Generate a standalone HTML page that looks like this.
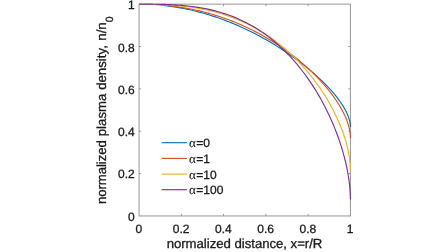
<!DOCTYPE html>
<html><head><meta charset="utf-8"><title>plot</title>
<style>
html,body{margin:0;padding:0;background:#fff;}
svg{display:block;}
text{text-rendering:geometricPrecision;font-family:"Liberation Sans",sans-serif;fill:#1a1a1a;stroke:#1a1a1a;stroke-width:0.3px;}
.t{font-size:12px;}
.l{font-size:13.2px;}
</style></head><body>
<svg width="448" height="252" viewBox="0 0 448 252">
<rect width="448" height="252" fill="#fff"/>
<g stroke="#969696" stroke-width="1" fill="none">
<rect x="139.05" y="4.15" width="211.35" height="211.80"/>
<path d="M181.32 215.95 v-2.00 M181.32 4.15 v2.00"/>
<path d="M139.05 173.59 h2.00 M350.40 173.59 h-2.00"/>
<path d="M223.59 215.95 v-2.00 M223.59 4.15 v2.00"/>
<path d="M139.05 131.23 h2.00 M350.40 131.23 h-2.00"/>
<path d="M265.86 215.95 v-2.00 M265.86 4.15 v2.00"/>
<path d="M139.05 88.87 h2.00 M350.40 88.87 h-2.00"/>
<path d="M308.13 215.95 v-2.00 M308.13 4.15 v2.00"/>
<path d="M139.05 46.51 h2.00 M350.40 46.51 h-2.00"/>
</g>
<g fill="none" stroke-width="1.15" stroke-linejoin="round">
<path d="M164.43 5.56 L166.54 5.80 L168.66 6.07 L170.77 6.35 L172.88 6.65 L174.99 6.98 L177.11 7.32 L179.22 7.68 L181.33 8.06 L183.45 8.46 L185.56 8.88 L187.67 9.32 L189.79 9.78 L191.90 10.26 L194.01 10.76 L196.13 11.28 L198.24 11.82 L200.35 12.38 L202.47 12.95 L204.58 13.55 L206.69 14.17 L208.81 14.80 L210.92 15.46 L213.03 16.14 L215.15 16.83 L217.26 17.55 L219.37 18.28 L221.49 19.04 L223.60 19.81 L225.71 20.61 L227.83 21.42 L229.94 22.26 L232.05 23.11 L234.17 23.99 L236.28 24.88 L238.39 25.80 L240.51 26.73 L242.62 27.69 L244.73 28.67 L246.85 29.67 L248.96 30.68 L251.07 31.72 L253.19 32.78 L255.30 33.86 L257.41 34.97 L259.53 36.09 L261.64 37.23 L263.75 38.40 L265.87 39.59 L267.98 40.80 L270.09 42.04 L272.21 43.29 L274.32 44.57 L276.43 45.88 L278.55 47.20 L280.66 48.55 L282.77 49.93 L284.89 51.33 L287.00 52.75 L289.11 54.21 L291.23 55.69 L293.34 57.19 L295.45 58.73 L297.57 60.29 L299.68 61.88 L301.79 63.51 L303.91 65.17 L306.02 66.86 L308.13 68.58 L310.25 70.35 L312.36 72.15 L314.47 73.99 L316.59 75.88 L318.70 77.82 L320.81 79.80 L322.93 81.85 L325.04 83.95 L327.15 86.12 L329.26 88.36 L329.98 89.14 L330.67 89.91 L331.36 90.68 L332.03 91.44 L332.70 92.20 L333.35 92.95 L333.98 93.71 L334.61 94.45 L335.22 95.20 L335.82 95.94 L336.41 96.68 L336.99 97.41 L337.55 98.14 L338.11 98.87 L338.65 99.59 L339.17 100.31 L339.69 101.02 L340.19 101.73 L340.69 102.44 L341.17 103.14 L341.63 103.84 L342.09 104.53 L342.53 105.22 L342.96 105.90 L343.38 106.59 L343.79 107.26 L344.18 107.93 L344.57 108.60 L344.94 109.27 L345.29 109.92 L345.64 110.58 L345.97 111.23 L346.30 111.88 L346.61 112.52 L346.90 113.16 L347.19 113.79 L347.46 114.42 L347.72 115.04 L347.97 115.66 L348.21 116.28 L348.43 116.89 L348.65 117.49 L348.85 118.09 L349.03 118.69 L349.21 119.28 L349.37 119.87 L349.53 120.45 L349.67 121.03 L349.79 121.61 L349.91 122.18 L350.01 122.74 L350.10 123.30 L350.18 123.86 L350.25 124.41 L350.30 124.96 L350.35 125.50 L350.38 126.03 L350.39 126.57 L350.40 127.09" stroke="#0072BD"/>
<path d="M155.98 4.65 L158.09 4.78 L160.20 4.93 L162.32 5.10 L164.43 5.29 L166.54 5.49 L168.66 5.71 L170.77 5.94 L172.88 6.20 L175.00 6.47 L177.11 6.76 L179.22 7.07 L181.34 7.39 L183.45 7.73 L185.56 8.10 L187.68 8.48 L189.79 8.88 L191.90 9.30 L194.02 9.73 L196.13 10.19 L198.24 10.67 L200.36 11.16 L202.47 11.68 L204.58 12.22 L206.70 12.77 L208.81 13.35 L210.92 13.95 L213.04 14.57 L215.15 15.21 L217.26 15.87 L219.38 16.55 L221.49 17.25 L223.60 17.98 L225.72 18.72 L227.83 19.49 L229.94 20.29 L232.06 21.10 L234.17 21.94 L236.28 22.80 L238.39 23.68 L240.51 24.59 L242.62 25.52 L244.73 26.48 L246.85 27.46 L248.96 28.46 L251.07 29.49 L253.19 30.54 L255.30 31.63 L257.41 32.73 L259.53 33.86 L261.64 35.02 L263.75 36.21 L265.87 37.42 L267.98 38.67 L270.09 39.94 L272.21 41.24 L274.32 42.57 L276.43 43.92 L278.55 45.31 L280.66 46.73 L282.77 48.19 L284.89 49.67 L287.00 51.19 L289.11 52.75 L291.23 54.33 L293.34 55.96 L295.45 57.62 L297.57 59.32 L299.68 61.06 L301.79 62.85 L303.91 64.67 L306.02 66.54 L308.13 68.46 L310.25 70.43 L312.36 72.45 L314.47 74.52 L316.59 76.66 L318.70 78.85 L320.81 81.12 L322.93 83.46 L325.04 85.88 L327.15 88.39 L329.26 90.99 L329.98 91.89 L330.67 92.79 L331.36 93.69 L332.03 94.58 L332.70 95.47 L333.35 96.36 L333.98 97.24 L334.61 98.13 L335.22 99.00 L335.82 99.88 L336.41 100.75 L336.99 101.62 L337.55 102.49 L338.11 103.35 L338.65 104.21 L339.17 105.06 L339.69 105.91 L340.19 106.76 L340.69 107.61 L341.17 108.45 L341.63 109.28 L342.09 110.12 L342.53 110.95 L342.96 111.77 L343.38 112.59 L343.79 113.41 L344.18 114.22 L344.57 115.03 L344.94 115.84 L345.29 116.64 L345.64 117.43 L345.97 118.23 L346.30 119.01 L346.61 119.80 L346.90 120.58 L347.19 121.35 L347.46 122.12 L347.72 122.89 L347.97 123.65 L348.21 124.40 L348.43 125.16 L348.65 125.90 L348.85 126.65 L349.03 127.38 L349.21 128.12 L349.37 128.85 L349.53 129.57 L349.67 130.29 L349.79 131.01 L349.91 131.72 L350.01 132.42 L350.10 133.12 L350.18 133.82 L350.25 134.51 L350.30 135.19 L350.35 135.88 L350.38 136.55 L350.39 137.22 L350.40 137.89" stroke="#D95319"/>
<path d="M164.44 4.70 L166.56 4.81 L168.67 4.93 L170.78 5.07 L172.90 5.22 L175.01 5.38 L177.12 5.56 L179.24 5.76 L181.35 5.97 L183.46 6.20 L185.57 6.44 L187.69 6.71 L189.80 6.99 L191.91 7.29 L194.03 7.61 L196.14 7.95 L198.25 8.31 L200.37 8.69 L202.48 9.09 L204.59 9.52 L206.71 9.96 L208.82 10.44 L210.93 10.93 L213.04 11.45 L215.16 12.00 L217.27 12.57 L219.38 13.17 L221.50 13.80 L223.61 14.45 L225.72 15.13 L227.84 15.84 L229.95 16.59 L232.06 17.36 L234.18 18.16 L236.29 18.99 L238.40 19.86 L240.51 20.76 L242.63 21.69 L244.74 22.66 L246.85 23.67 L248.97 24.71 L251.08 25.78 L253.19 26.90 L255.31 28.05 L257.42 29.24 L259.53 30.47 L261.65 31.74 L263.76 33.06 L265.87 34.41 L267.99 35.81 L270.10 37.26 L272.21 38.75 L274.32 40.28 L276.44 41.87 L278.55 43.50 L280.66 45.19 L282.78 46.92 L284.89 48.71 L287.00 50.56 L289.12 52.46 L291.23 54.41 L293.34 56.43 L295.46 58.51 L297.57 60.65 L299.68 62.86 L301.79 65.14 L303.91 67.49 L306.02 69.91 L308.13 72.42 L310.25 75.00 L312.36 77.67 L314.47 80.43 L316.59 83.29 L318.70 86.25 L320.81 89.32 L322.93 92.51 L325.04 95.83 L327.15 99.30 L329.26 102.92 L329.98 104.18 L330.67 105.44 L331.36 106.69 L332.03 107.95 L332.70 109.20 L333.35 110.45 L333.98 111.70 L334.61 112.94 L335.22 114.19 L335.82 115.43 L336.41 116.67 L336.99 117.91 L337.55 119.14 L338.11 120.37 L338.65 121.60 L339.17 122.83 L339.69 124.05 L340.19 125.27 L340.69 126.48 L341.17 127.69 L341.63 128.90 L342.09 130.10 L342.53 131.30 L342.96 132.49 L343.38 133.68 L343.79 134.87 L344.18 136.05 L344.57 137.22 L344.94 138.39 L345.29 139.56 L345.64 140.72 L345.97 141.88 L346.30 143.02 L346.61 144.17 L346.90 145.31 L347.19 146.44 L347.46 147.57 L347.72 148.69 L347.97 149.80 L348.21 150.91 L348.43 152.01 L348.65 153.11 L348.85 154.20 L349.03 155.28 L349.21 156.36 L349.37 157.42 L349.53 158.49 L349.67 159.54 L349.79 160.59 L349.91 161.63 L350.01 162.66 L350.10 163.69 L350.18 164.71 L350.25 165.72 L350.30 166.72 L350.35 167.72 L350.38 168.71 L350.39 169.68 L350.40 170.66" stroke="#EDB120"/>
<path d="M139.05 4.15 L139.15 4.15 L141.26 4.15 L143.37 4.15 L145.48 4.16 L147.60 4.17 L149.71 4.18 L151.82 4.19 L153.93 4.22 L156.05 4.24 L158.16 4.28 L160.27 4.32 L162.38 4.38 L164.50 4.44 L166.61 4.51 L168.72 4.59 L170.83 4.69 L172.95 4.80 L175.06 4.92 L177.17 5.06 L179.28 5.21 L181.39 5.38 L183.51 5.56 L185.62 5.76 L187.73 5.98 L189.84 6.22 L191.96 6.48 L194.07 6.76 L196.18 7.06 L198.29 7.39 L200.41 7.74 L202.52 8.11 L204.63 8.51 L206.74 8.93 L208.86 9.38 L210.97 9.86 L213.08 10.36 L215.19 10.90 L217.31 11.46 L219.42 12.06 L221.53 12.68 L223.64 13.34 L225.76 14.04 L227.87 14.76 L229.98 15.53 L232.09 16.33 L234.21 17.16 L236.32 18.04 L238.43 18.95 L240.54 19.91 L242.66 20.90 L244.77 21.94 L246.88 23.02 L248.99 24.14 L251.11 25.31 L253.22 26.52 L255.33 27.78 L257.44 29.09 L259.55 30.45 L261.67 31.86 L263.78 33.33 L265.89 34.84 L268.00 36.41 L270.12 38.04 L272.23 39.72 L274.34 41.46 L276.45 43.26 L278.57 45.12 L280.68 47.05 L282.79 49.04 L284.90 51.10 L287.02 53.22 L289.13 55.42 L291.24 57.69 L293.35 60.04 L295.47 62.47 L297.58 64.97 L299.69 67.57 L301.80 70.24 L303.92 73.02 L306.03 75.88 L308.14 78.85 L310.25 81.92 L312.37 85.10 L314.48 88.40 L316.59 91.82 L318.70 95.38 L320.82 99.08 L322.93 102.93 L325.04 106.96 L327.15 111.16 L329.26 115.58 L329.98 117.12 L330.67 118.65 L331.36 120.19 L332.03 121.72 L332.70 123.26 L333.35 124.80 L333.98 126.33 L334.61 127.86 L335.22 129.40 L335.82 130.93 L336.41 132.46 L336.99 133.99 L337.55 135.51 L338.11 137.04 L338.65 138.56 L339.17 140.08 L339.69 141.60 L340.19 143.11 L340.69 144.62 L341.17 146.13 L341.63 147.64 L342.09 149.14 L342.53 150.63 L342.96 152.13 L343.38 153.62 L343.79 155.10 L344.18 156.58 L344.57 158.05 L344.94 159.52 L345.29 160.99 L345.64 162.45 L345.97 163.90 L346.30 165.34 L346.61 166.78 L346.90 168.22 L347.19 169.64 L347.46 171.06 L347.72 172.48 L347.97 173.88 L348.21 175.27 L348.43 176.66 L348.65 178.04 L348.85 179.41 L349.03 180.76 L349.21 182.11 L349.37 183.45 L349.53 184.77 L349.67 186.08 L349.79 187.38 L349.91 188.67 L350.01 189.94 L350.10 191.20 L350.18 192.43 L350.25 193.66 L350.30 194.86 L350.35 196.04 L350.38 197.21 L350.39 198.35 L350.40 199.47" stroke="#7E2F8E"/>
</g>
<g class="t" text-anchor="end">
<text x="134.8" y="220.50">0</text>
<text x="134.8" y="178.26">0.2</text>
<text x="134.8" y="136.02">0.4</text>
<text x="134.8" y="93.78">0.6</text>
<text x="134.8" y="51.54">0.8</text>
<text x="134.8" y="9.30">1</text>
</g>
<g class="t" text-anchor="middle">
<text x="138.85" y="232.8">0</text>
<text x="181.12" y="232.8">0.2</text>
<text x="223.39" y="232.8">0.4</text>
<text x="265.66" y="232.8">0.6</text>
<text x="307.93" y="232.8">0.8</text>
<text x="350.20" y="232.8">1</text>
</g>
<text class="l" text-anchor="middle" letter-spacing="-0.03" x="244.5" y="248.4">normalized distance, x=r/R</text>
<text class="l" transform="translate(106.3 204.0) rotate(-90)"><tspan x="0" letter-spacing="-0.08">normalized</tspan> <tspan x="67.76" letter-spacing="0.03">plasma density,</tspan> <tspan x="163.3" letter-spacing="0.03">n/n</tspan><tspan dy="7.0" font-size="10.56px">0</tspan></text>
<g fill="none" stroke-width="1.15">
<path d="M161.7 142.70 H186.9" stroke="#0072BD"/>
<path d="M161.7 158.40 H186.9" stroke="#D95319"/>
<path d="M161.7 174.10 H186.9" stroke="#EDB120"/>
<path d="M161.7 189.70 H186.9" stroke="#7E2F8E"/>
</g>
<g class="t">
<text x="188.9" y="147.20"><tspan font-family="Liberation Serif, serif" font-size="13px" style="stroke-width:0.1px">α</tspan><tspan x="196.3">=0</tspan></text>
<text x="188.9" y="162.90"><tspan font-family="Liberation Serif, serif" font-size="13px" style="stroke-width:0.1px">α</tspan><tspan x="196.3">=1</tspan></text>
<text x="188.9" y="178.60"><tspan font-family="Liberation Serif, serif" font-size="13px" style="stroke-width:0.1px">α</tspan><tspan x="196.3">=10</tspan></text>
<text x="188.9" y="194.20"><tspan font-family="Liberation Serif, serif" font-size="13px" style="stroke-width:0.1px">α</tspan><tspan x="196.3">=100</tspan></text>
</g>
</svg></body></html>
